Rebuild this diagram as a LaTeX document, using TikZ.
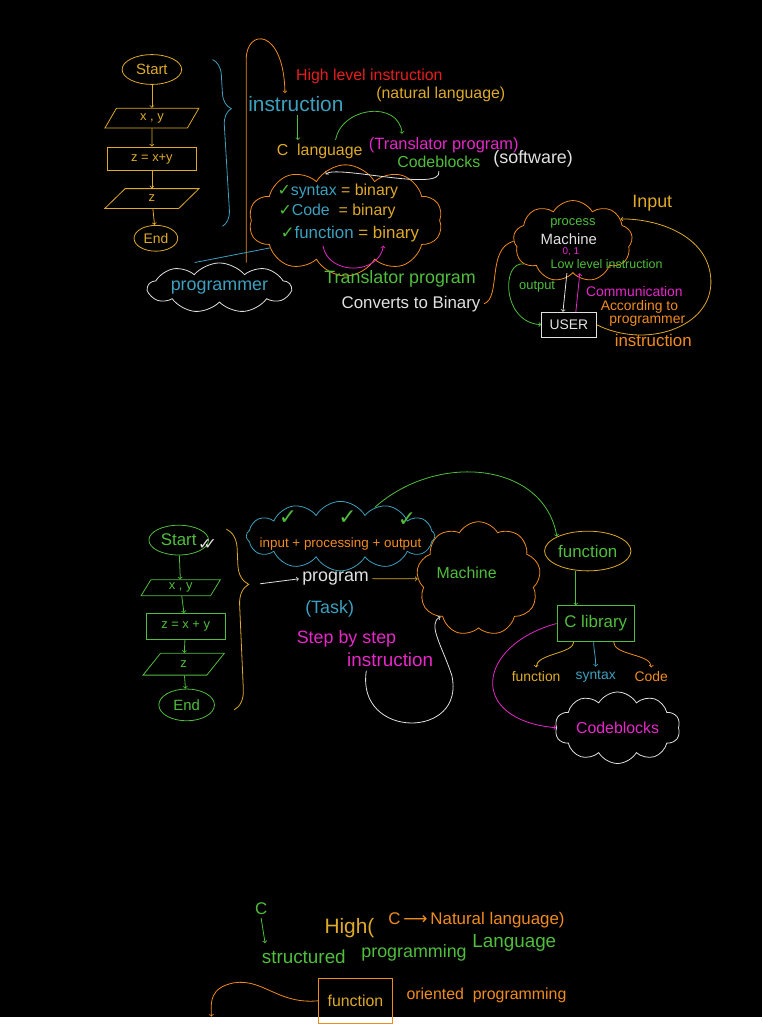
\documentclass[tikz,border=0pt]{standalone}
\usepackage{fontspec}
\setmainfont{Liberation Sans}
\newfontfamily\symfont{DejaVu Sans}
\usetikzlibrary{shapes.geometric,shapes.symbols,decorations.pathreplacing}
\definecolor{inkgold}{RGB}{222,170,40}
\definecolor{inkorange}{RGB}{240,140,30}
\definecolor{inkteal}{RGB}{60,160,190}
\definecolor{inkgreen}{RGB}{80,190,60}
\definecolor{inkpink}{RGB}{230,40,200}
\definecolor{inkred}{RGB}{230,30,30}
\definecolor{inkwhite}{RGB}{225,225,225}
\begin{document}
\begin{tikzpicture}[
            x=1pt, y=-1pt,
            every node/.style={font=\fontsize{16}{18}\selectfont},
            text size/.style={font=\fontsize{#1}{#1}\selectfont},
            tick/.style={font=\fontsize{22}{24}\symfont, inkgreen},
            term node/.style={ellipse,draw,thick,minimum width=60pt,minimum height=30pt,inner sep=1pt},
            box node/.style={rectangle,draw,thick,minimum width=90pt,minimum height=24pt,inner sep=1pt},
            io node/.style={trapezium,trapezium left angle=70,trapezium right angle=110,trapezium stretches=true,
                draw,thick,minimum width=95pt,minimum height=20pt,inner sep=1pt},
            cloud node/.style={cloud,draw,thick,cloud ignores aspect,cloud puffs=10,cloud puff arc=120},
            every edge/.style={draw,thick,->},
        ]
            \fill[black] (0,0) rectangle (768,1024);

            % top flowchart
            \node[term node,inkgold,text size=15] (start1) at (153,70) {Start};
            \node[io node,inkgold,text size=13] (xy1) at (153,119) {x , y};
            \node[box node,inkgold,text size=13] (sum1) at (153,160) {z = x+y};
            \node[io node,inkgold,text size=13] (z1) at (153,200) {z};
            \node[term node,inkgold,text size=14,minimum width=44pt,minimum height=26pt] (end1) at (157,240) {End};
            \path[inkgold] (start1) edge (xy1) (xy1) edge (sum1) (sum1) edge (z1) (z1) edge (end1);
            \draw[inkteal,thick,decorate,decoration={brace,amplitude=16pt,aspect=0.3}] (214,60) -- (224,228);

            % instruction -> language
            \node[inkred] (hli) at (372,77) {High level instruction};
            \node[inkgold] (natl) at (444,95) {(natural language)};
            \node[inkteal,text size=21] (instr) at (298,105) {instruction};
            \node[inkgold] (clang) at (322,152) {C\ \ language};
            \node[inkpink,text size=16.5] (transl) at (447,146) {(Translator program)};
            \node[inkgreen] (cb1) at (442,163) {Codeblocks};
            \node[inkwhite,text size=18] (soft) at (537,160) {(software)};
            \path[inkgreen] ([xshift=2pt]instr.south) edge ([xshift=-22pt]clang.north);
            \path[inkgreen] ([xshift=16pt]clang.north) edge[out=80,in=95,looseness=1.3] ([xshift=-42pt]transl.north);

            % binary cloud
            \node[cloud node,inkorange,minimum width=195pt,minimum height=112pt] (cloud1) at (348,222) {};
            \node[anchor=west] (syn) at (276,193) {{\symfont\textcolor{inkgreen}{✓}}\textcolor{inkteal}{syntax} \textcolor{inkgold}{= binary}};
            \node[anchor=west] (code) at (277,213) {{\symfont\textcolor{inkgreen}{✓}}\textcolor{inkteal}{Code} \ \textcolor{inkgold}{= binary}};
            \node[anchor=west,text size=17] (fn) at (279,236) {{\symfont\textcolor{inkgreen}{✓}}\textcolor{inkteal}{function} \textcolor{inkgold}{= binary}};
            \draw[inkwhite,thick,->] (cb1.south) .. controls +(5,22) and +(10,-10) .. ([shift={(-20,10)}]cloud1.north);
            \draw[inkpink,thick,->] ([xshift=-27pt]fn.south) .. controls +(5,30) and +(-5,30) .. ([xshift=34pt]fn.south);

            % programmer
            \node[cloud node,draw=inkwhite,text=inkteal,text size=18,cloud puffs=9,cloud puff arc=100,
                minimum width=128pt,minimum height=44pt] (prog) at (221,290) {programmer};
            \draw[inkorange,thick,->] ([xshift=27pt]prog.north) -- (248,60) .. controls (248,28) and (286,28) .. ([xshift=-11pt]instr.north);
            \draw[inkteal,thick] ([xshift=-25pt]prog.north) -- (cloud1.200);
            \node[inkgreen,text size=18] (tprog) at (403,281) {Translator program};
            \node[inkwhite,text size=17] (conv) at (414,306) {Converts to Binary};

            % machine and user
            \node[cloud node,inkorange,cloud puffs=9,minimum width=120pt,minimum height=82pt] (mach1) at (577,243) {};
            \node[inkgreen,text size=13] (proc1) at (577,225) {process};
            \node[inkwhite,text size=15] (machtxt) at (573,241) {Machine};
            \node[inkpink,text size=10] (bits) at (575,253) {0, 1};
            \node[inkgreen,text size=12.5] (lowlvl) at (611,266) {Low level instruction};
            \node[box node,draw=inkwhite,text=inkwhite,text size=14,minimum width=55pt,minimum height=25pt] (user) at (573,327) {USER};
            \draw[inkorange,thick] (conv.east) .. controls (505,300) and (490,250) .. (mach1.west);
            \path[inkwhite] ([xshift=-6pt]mach1.south) edge ([xshift=-6pt]user.north);
            \path[inkpink] ([xshift=7pt]user.north) edge ([xshift=7pt]mach1.south);
            \draw[inkgreen,thick,->] (mach1.205) .. controls (505,262) and (505,325) .. (user.west);
            \node[inkgreen,text size=13] (outp) at (541,289) {output};
            \draw[inkgold,thick,->] (user.east) .. controls (650,352) and (718,330) .. (716,282)
                .. controls (714,236) and (660,220) .. (mach1.25);
            \node[inkgold,text size=18] (inp) at (657,205) {Input};
            \node[inkpink,text size=14] (comm) at (639,294) {Communication};
            \node[inkorange,text size=14] (acc) at (644,309) {According to};
            \node[inkorange,text size=14] (progr) at (652,324) {programmer};
            \node[inkorange,text size=17] (instr1) at (658,343) {instruction};

            % middle flowchart
            \node[term node,inkgreen,text size=17] (start2) at (180,544) {Start};
            \node[inkwhite] (tick2) at (209,548) {\symfont ✓\kern-8pt✓};
            \node[io node,inkgreen,text size=13,minimum width=80pt,minimum height=16pt] (xy2) at (182,592) {x , y};
            \node[box node,inkgreen,text size=13,minimum width=80pt,minimum height=26pt] (sum2) at (187,631) {z = x + y};
            \node[io node,inkgreen,text size=13,minimum width=82pt,minimum height=22pt] (z2) at (185,669) {z};
            \node[term node,inkgreen,text size=15,minimum width=56pt,minimum height=32pt] (end2) at (188,710) {End};
            \path[inkgreen] (start2) edge (xy2) (xy2) edge (sum2) (sum2) edge (z2) (z2) edge (end2);
            \draw[inkgold,thick,decorate,decoration={brace,amplitude=20pt,aspect=0.31}] (228,533) -- (236,715);

            % program -> machine
            \node[cloud node,inkteal,cloud puffs=12,minimum width=190pt,minimum height=70pt] (tcloud) at (343,540) {};
            \node[inkorange,text size=13.5] (ipo) at (343,548) {input + processing + output};
            \node[tick] (t1) at (290,521) {✓};
            \node[tick] (t2) at (350,521) {✓};
            \node[tick] (t3) at (410,523) {✓};
            \coordinate (brace2) at (262,588);
            \node[inkwhite,text size=18] (prg) at (338,583) {program};
            \path[inkwhite] (brace2) edge (prg.west);
            \node[cloud node,inkorange,cloud puffs=9,minimum width=125pt,minimum height=115pt] (mach2) at (482,583) {};
            \node[inkgreen,text size=16] (machtxt2) at (470,577) {Machine};
            \path[inkgold] (prg.east) edge (mach2.west);
            \node[inkteal,text size=18] (task) at (332,613) {(Task)};
            \node[inkpink,text size=18] (steps) at (349,643) {Step by step};
            \node[inkpink,text size=19] (instr2) at (393,665) {instruction};
            \draw[inkwhite,thick,->] ([xshift=-24pt]instr2.south) .. controls (358,745) and (470,745) .. (455,680)
                .. controls (445,650) and (430,628) .. (mach2.225);

            % function / library
            \node[term node,inkgold,text=inkgreen,text size=17,minimum width=82pt,minimum height=40pt] (func) at (592,555) {function};
            \draw[inkgreen,thick,->] (tcloud.40) .. controls (440,455) and (548,465) .. (func.north west);
            \node[box node,inkgreen,text size=17,minimum width=78pt,minimum height=36pt] (clib) at (600,628) {C library};
            \path[inkgreen] ([xshift=-12pt]func.south) edge ([xshift=-20pt]clib.north);
            \node[inkgold,text size=14] (fn2) at (540,681) {function};
            \node[inkteal,text size=14] (syn2) at (600,681) {syntax};
            \node[inkorange,text size=14] (code2) at (656,681) {Code};
            \draw[inkgold,thick,->] ([xshift=-22pt]clib.south) .. controls +(0,12) and +(0,-14) .. (fn2.north);
            \draw[inkteal,thick,->] ([xshift=-2pt]clib.south) .. controls +(0,10) and +(0,-12) .. (syn2.north);
            \draw[inkorange,thick,->] ([xshift=18pt]clib.south) .. controls +(0,14) and +(0,-14) .. (code2.north);
            \node[cloud node,draw=inkwhite,text=inkpink,minimum width=122pt,minimum height=72pt] (cblk) at (622,733) {Codeblocks};
            \draw[inkpink,thick,->] (clib.west) .. controls (480,650) and (470,725) .. (cblk.west);

            % bottom notes
            \node[inkgreen,text size=17] (c3) at (263,915) {C};
            \coordinate (c3a) at (267,950);
            \path[inkgreen] (c3.south) edge (c3a);
            \node[inkgold,text size=21] (high) at (352,935) {High(};
            \node[inkorange,text size=17] (nat) at (480,927) {C\,{\symfont ⟶}\,Natural language)};
            \node[inkgreen,text size=19] (strc) at (306,964) {structured};
            \node[inkgreen,text size=18] (prgm) at (417,960) {programming};
            \node[inkgreen,text size=19] (lang) at (518,950) {Language};
            \node[box node,draw=inkorange,text=inkgold,text size=16,minimum width=74pt,minimum height=46pt] (fnbox) at (358,1008) {function};
            \node[inkorange,text size=16] (oop) at (490,1003) {oriented\ \ programming};
            \draw[inkorange,thick,->] (fnbox.west) .. controls (280,1012) and (265,985) .. (235,990)
                .. controls (212,995) and (212,1008) .. (213,1024);
\end{tikzpicture}
\end{document}
